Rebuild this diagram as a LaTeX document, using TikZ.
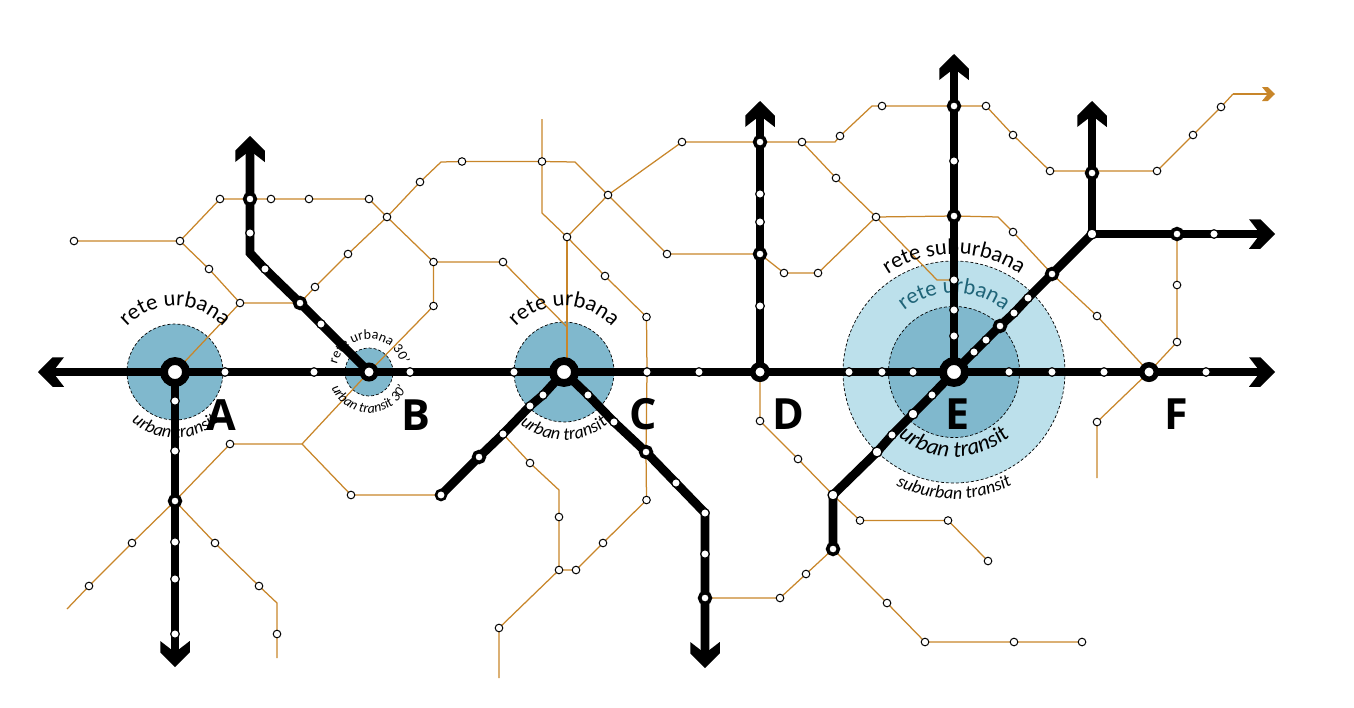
\documentclass[tikz,border=0pt]{standalone}
\usepackage{fontspec}
\setmainfont{Carlito}
\newfontfamily\letterfont{Open Sans}
\usetikzlibrary{arrows.meta,decorations.text}
\definecolor{orangeline}{HTML}{C8862A}
\definecolor{inner}{HTML}{80B8CD}
\definecolor{outerz}{HTML}{BCE0EB}
\definecolor{teal}{HTML}{1F6478}
\pgfdeclarelayer{zones}\pgfdeclarelayer{thin}\pgfdeclarelayer{labels}\pgfdeclarelayer{thick}
\pgfsetlayers{zones,thin,labels,thick,main}
\pgfdeclarearrow{
  name=Chev,
  defaults={length=26pt,width=29.5pt},
  setup code={
    \pgfarrowssettipend{0pt}
    \pgfarrowssetlineend{-0.45\pgfarrowlength}
    \pgfarrowssetvisualtipend{0pt}
    \pgfarrowssetbackend{-\pgfarrowlength}
    \pgfarrowssetvisualbackend{-0.5\pgfarrowlength}
    \pgfarrowssavethe\pgfarrowlength
    \pgfarrowssavethe\pgfarrowwidth
  },
  parameters={\the\pgfarrowlength,\the\pgfarrowwidth},
  drawing code={
    \pgfpathmoveto{\pgfpoint{0pt}{0pt}}
    \pgfpathlineto{\pgfpoint{-0.56\pgfarrowlength}{0.5\pgfarrowwidth}}
    \pgfpathlineto{\pgfpoint{-\pgfarrowlength}{0.5\pgfarrowwidth}}
    \pgfpathlineto{\pgfpoint{-0.56\pgfarrowlength}{0pt}}
    \pgfpathlineto{\pgfpoint{-\pgfarrowlength}{-0.5\pgfarrowwidth}}
    \pgfpathlineto{\pgfpoint{-0.56\pgfarrowlength}{-0.5\pgfarrowwidth}}
    \pgfpathclose
    \pgfusepathqfill
  }
}
\newcommand\szA{\fontsize{22.5}{25}\selectfont}
\newcommand\szAi{\fontsize{18}{20}\selectfont\itshape}
\newcommand\szB{\fontsize{14}{16}\selectfont}
\newcommand\szBi{\fontsize{14}{16}\selectfont\itshape}
\newcommand\szE{\fontsize{22.5}{25}\selectfont}
\newcommand\szEt{\fontsize{22.5}{25}\selectfont\color{teal}}
\newcommand\szEi{\fontsize{23}{26}\selectfont\itshape}
\newcommand\szEs{\fontsize{18}{20}\selectfont\itshape}
\tikzset{
  base/.style={circle,inner sep=0pt,outer sep=0pt,fill=white,draw=black},
  st/.style={base,minimum size=7.6pt,line width=1pt},
  ws/.style={base,minimum size=8.6pt,line width=1.2pt},
  wb/.style={base,minimum size=10pt,line width=1.3pt},
  ix/.style={base,minimum size=10.8pt,line width=3.6pt},
  mh/.style={base,minimum size=14.5pt,line width=5.5pt},
  hb/.style={base,minimum size=14pt,line width=5pt},
  hub/.style={base,minimum size=22pt,line width=7.8pt},
  zone/.style={circle,inner sep=0pt,outer sep=0pt,draw=black,dashed,line width=0.7pt,dash pattern=on 3pt off 2pt},
  letter/.style={inner sep=0pt,font=\letterfont\fontsize{43}{46}\selectfont\bfseries},
  olin/.style={draw=orangeline,line width=1.25pt,line join=round},
  blin/.style={draw=black,line width=8.8pt,line join=miter},
  lab/.style={decorate,decoration={text along path,text align=center,text={#1}}},
}
\begin{document}
\begin{tikzpicture}[x=1pt,y=-1pt]
\useasboundingbox (0,0) rectangle (1354,707);
% free ends and bends
\coordinate (eL) at (38,372);
\coordinate (eR) at (1275,372);
\coordinate (eAd) at (175,667);
\coordinate (eTL) at (250,136);
\coordinate (eCd) at (705,668);
\coordinate (eDu) at (760,101);
\coordinate (eEu) at (954,54);
\coordinate (eGu) at (1092,101);
\coordinate (eGr) at (1275,234);
\coordinate (eOr) at (1275,94);
\coordinate (c250) at (250,253);
\coordinate (c441) at (441,162);
\coordinate (c575) at (575,162);
\coordinate (c542t) at (542,119);
\coordinate (c542b) at (542,213);
\coordinate (c567) at (567,327);
\coordinate (c567b) at (567,362);
\coordinate (c835) at (835,142);
\coordinate (c872) at (872,106);
\coordinate (c937) at (937,280);
\coordinate (c998) at (998,217);
\coordinate (c1233) at (1233,94);
\coordinate (c302) at (302,444);
\coordinate (c277) at (277,603);
\coordinate (e277) at (277,658);
\coordinate (e67) at (67,609);
\coordinate (c559) at (559,490);
\coordinate (e499) at (499,678);
\coordinate (e1097) at (1097,478);
% hubs
\node[hub] (A) at (175,372) {};
\node[hb] (B) at (369,372) {};
\node[hub] (C) at (564,372) {};
\node[mh] (D) at (760,372) {};
\node[hub] (E) at (954,372) {};
\node[mh] (F) at (1149,372) {};
% stops on the thick horizontal
\node[ws] (m225) at (225,372) {};
\node[ws] (m314) at (314,372) {};
\node[ws] (m410) at (410,372) {};
\node[ws] (m514) at (514,372) {};
\node[ws] (m647) at (647,372) {};
\node[ws] (m699) at (699,372) {};
\node[ws] (m849) at (849,372) {};
\node[ws] (m882) at (882,372) {};
\node[ws] (m913) at (913,372) {};
\node[ws] (m1009) at (1009,372) {};
\node[ws] (m1052) at (1052,372) {};
\node[ws] (m1104) at (1104,372) {};
\node[ws] (m1206) at (1206,372) {};
% thick A down
\node[ws] (a401) at (175,401) {};
\node[ws] (a451) at (175,451) {};
\node[ix] (x175) at (175,501) {};
\node[ws] (a542) at (175,542) {};
\node[ws] (a579) at (175,579) {};
\node[ws] (a634) at (175,634) {};
% thick B up
\node[ws] (b321) at (321,324) {};
\node[ix] (x300) at (300,303) {};
\node[ws] (b265) at (265,269) {};
\node[ws] (b233) at (250,233) {};
\node[ix] (x250) at (250,199) {};
% thick C lower left
\node[ws] (l543) at (543,395) {};
\node[ws] (l530) at (530,406) {};
\node[ws] (l503) at (503,434) {};
\node[ix] (l479) at (479,457) {};
\node[base,minimum size=10pt,line width=2.6pt] (t441) at (441,495) {};
% thick C lower right
\node[ws] (r588) at (588,395) {};
\node[ws] (r614) at (614,422) {};
\node[ix] (x646) at (646,452) {};
\node[ws] (r676) at (676,483) {};
\node[ws] (r704) at (705,513) {};
\node[ws] (r554) at (705,554) {};
\node[ix] (x705) at (705,598) {};
% thick D up
\node[ws] (d306) at (760,306) {};
\node[ix] (x760b) at (760,254) {};
\node[ws] (d222) at (760,222) {};
\node[ws] (d194) at (760,194) {};
\node[ix] (x760t) at (760,142) {};
% thick E up
\node[ws] (e336) at (954,336) {};
\node[ws] (e310) at (954,310) {};
\node[ws] (e280) at (954,280) {};
\node[ix] (x954m) at (954,216) {};
\node[ws] (e161) at (954,161) {};
\node[ix] (x954t) at (954,106) {};
% thick E lower left
\node[ws] (g932) at (932,395) {};
\node[wb] (g913) at (913,414) {};
\node[ws] (g892) at (892,435) {};
\node[wb] (g877) at (877,452) {};
\node[wb] (w833) at (833,495) {};
\node[ix] (x833) at (833,549) {};
% thick E upper right
\node[ws] (h974) at (974,352) {};
\node[ws] (h986) at (986,340) {};
\node[ix] (h1000) at (1000,326) {};
\node[ws] (h1014) at (1014,313) {};
\node[ws] (h1028) at (1028,298) {};
\node[ix] (x1052) at (1052,274) {};
\node[wb] (w1092) at (1092,234) {};
\node[ix] (x1092) at (1092,173) {};
\node[ix] (x1177) at (1177,234) {};
\node[ws] (w1214) at (1214,234) {};
% small stops
\node[st] (o74) at (74,241) {};
\node[st] (o180) at (180,241) {};
\node[st] (o220) at (220,199) {};
\node[st] (o271) at (271,199) {};
\node[st] (o309) at (309,199) {};
\node[st] (o369) at (369,199) {};
\node[st] (o387) at (387,217) {};
\node[st] (o433) at (433.5,262) {};
\node[st] (o434) at (433.5,306) {};
\node[st] (o209) at (209,269) {};
\node[st] (o240) at (240,303) {};
\node[st] (o315) at (315,287) {};
\node[st] (o348) at (348,254) {};
\node[st] (o420) at (420,182) {};
\node[st] (o462) at (462,161.5) {};
\node[st] (o542) at (542,161.5) {};
\node[st] (o608) at (608,195) {};
\node[st] (o667) at (667,254) {};
\node[st] (o784) at (784,273) {};
\node[st] (o818) at (818,273) {};
\node[st] (o876) at (876,217) {};
\node[st] (o503) at (503,262) {};
\node[st] (o567) at (567,237) {};
\node[st] (o605) at (605,276) {};
\node[st] (o646) at (646.5,317) {};
\node[st] (o646b) at (646.5,500) {};
\node[st] (o603) at (603,543) {};
\node[st] (o576) at (576,570) {};
\node[st] (o559c) at (559,570) {};
\node[st] (o559) at (559,517) {};
\node[st] (o530) at (530,463) {};
\node[st] (o499) at (499,628) {};
\node[st] (o682) at (682,142) {};
\node[st] (o802) at (802,142) {};
\node[st] (o840) at (840,136) {};
\node[st] (o882) at (882,106) {};
\node[st] (o986) at (986,106) {};
\node[st] (o1013) at (1013,135) {};
\node[st] (o1050) at (1050,171) {};
\node[st] (o1157) at (1157,171) {};
\node[st] (o1193) at (1193,135) {};
\node[st] (o1221) at (1221,107) {};
\node[st] (o836) at (836,178) {};
\node[st] (o1013b) at (1013,232) {};
\node[st] (o1097) at (1097,316) {};
\node[st] (o1097b) at (1097,422) {};
\node[st] (o1176) at (1177,342) {};
\node[st] (o1176b) at (1177,285) {};
\node[st] (o230) at (230,444) {};
\node[st] (o351) at (351,495) {};
\node[st] (o89) at (89,586) {};
\node[st] (o132) at (132,543) {};
\node[st] (o215) at (215,543) {};
\node[st] (o259) at (259,586) {};
\node[st] (o277) at (277,634) {};
\node[st] (o780) at (780,598) {};
\node[st] (o806) at (806,574) {};
\node[st] (o887) at (887,603) {};
\node[st] (o925) at (925,642) {};
\node[st] (o1014) at (1014,642) {};
\node[st] (o1082) at (1082,642) {};
\node[st] (o760) at (760,421) {};
\node[st] (o798) at (798,459) {};
\node[st] (o860) at (860,520.5) {};
\node[st] (o948) at (948,520.5) {};
\node[st] (o988) at (988,561) {};
% letters
\node[letter] (lA) at (221,415) {A};
\node[letter] (lB) at (416,415) {B};
\node[letter] (lC) at (643,414) {C};
\node[letter] (lD) at (788,414) {D};
\node[letter] (lE) at (958,414) {E};
\node[letter] (lF) at (1176,414) {F};
% zones
\begin{pgfonlayer}{zones}
\node[zone,fill=outerz,minimum size=222pt] (zEo) at (E.center) {};
\node[zone,fill=inner,minimum size=131pt] (zEi) at (E.center) {};
\node[zone,fill=inner,minimum size=96pt] (zA) at (A.center) {};
\node[zone,fill=inner,minimum size=48pt] (zB) at (B.center) {};
\node[zone,fill=inner,minimum size=100pt] (zC) at (C.center) {};
\end{pgfonlayer}
% thin lines
\begin{pgfonlayer}{thin}
\path[olin] (o74.center) -- (o180.center) -- (o220.center) -- (x250.center) -- (o271.center) -- (o309.center) -- (o369.center) -- (o387.center) -- (o433.center) -- (o434.center) -- (B.center) -- (c302);
\path[olin] (o180.center) -- (o209.center) -- (o240.center) -- (A.center);
\path[olin] (o240.center) -- (x300.center) -- (o315.center) -- (o348.center) -- (o387.center) -- (o420.center) -- (c441) -- (o462.center) -- (o542.center) -- (c575) -- (o608.center) -- (o667.center) -- (x760b.center) -- (o784.center) -- (o818.center) -- (o876.center) -- (c937) -- (e280.center);
\path[olin] (o433.center) -- (o503.center) -- (c567);
\path[olin] (c542t) -- (o542.center) -- (c542b) -- (o567.center) -- (o605.center) -- (o646.center) -- (m647.center) -- (x646.center) -- (o646b.center) -- (o603.center) -- (o576.center) -- (o559c.center) -- (o499.center) -- (e499);
\path[olin] (o567.center) -- (c567b);
\path[olin] (o567.center) -- (o608.center) -- (o682.center) -- (x760t.center) -- (o802.center) -- (c835) -- (o840.center) -- (c872) -- (o882.center) -- (x954t.center) -- (o986.center) -- (o1013.center) -- (o1050.center) -- (o1157.center) -- (o1193.center) -- (o1221.center) -- (c1233);
\path[olin,-{Chev[length=13pt,width=14pt]},orangeline] (c1233) -- (eOr);
\path[olin] (o802.center) -- (o836.center) -- (o876.center) -- (x954m.center) -- (c998) -- (o1013b.center) -- (x1052.center) -- (o1097.center) -- (F.center) -- (o1097b.center) -- (e1097);
\path[olin] (F.center) -- (o1176.center) -- (o1176b.center) -- (x1177.center);
\path[olin] (o230.center) -- (c302) -- (o351.center) -- (t441.center);
\path[olin] (e67) -- (o89.center) -- (o132.center) -- (x175.center) -- (o230.center);
\path[olin] (x175.center) -- (o215.center) -- (o259.center) -- (c277) -- (o277.center) -- (e277);
\path[olin] (l503.center) -- (o530.center) -- (c559) -- (o559.center) -- (o559c.center);
\path[olin] (x705.center) -- (o780.center) -- (o806.center) -- (x833.center) -- (o887.center) -- (o925.center) -- (o1014.center) -- (o1082.center);
\path[olin] (D.center) -- (o760.center) -- (o798.center) -- (w833.center) -- (o860.center) -- (o948.center) -- (o988.center);
\end{pgfonlayer}
% curved labels
\begin{pgfonlayer}{labels}
\path[lab={|\szA|rete urbana}] ([shift={(140:66pt)}]A.center) arc[start angle=140,end angle=40,radius=66pt];
\path[lab={|\szAi|urban transit}] ([shift={(205:66pt)}]A.center) arc[start angle=205,end angle=335,radius=66pt];
\path[lab={|\szB|rete urbana 30'}] ([shift={(170:33pt)}]B.center) arc[start angle=170,end angle=10,radius=33pt];
\path[lab={|\szBi|urban transit 30'}] ([shift={(195:41pt)}]B.center) arc[start angle=195,end angle=345,radius=41pt];
\path[lab={|\szA|rete urbana}] ([shift={(140:66pt)}]C.center) arc[start angle=140,end angle=40,radius=66pt];
\path[lab={|\szAi|urban transit}] ([shift={(205:68pt)}]C.center) arc[start angle=205,end angle=335,radius=68pt];
\path[lab={|\szE|rete suburbana}] ([shift={(140:118pt)}]E.center) arc[start angle=140,end angle=40,radius=118pt];
\path[lab={|\szEt|rete urbana}] ([shift={(140:79pt)}]E.center) arc[start angle=140,end angle=40,radius=79pt];
\path[lab={|\szEi|urban transit}] ([shift={(205:85pt)}]E.center) arc[start angle=205,end angle=335,radius=85pt];
\path[lab={|\szEs|suburban transit}] ([shift={(230:127pt)}]E.center) arc[start angle=230,end angle=310,radius=127pt];
\end{pgfonlayer}
% thick lines
\begin{pgfonlayer}{thick}
\path[blin,{Chev}-{Chev},black] (eL) -- (A.center) -- (m225.center) -- (m314.center) -- (B.center) -- (m410.center) -- (m514.center) -- (C.center) -- (m647.center) -- (m699.center) -- (D.center) -- (m849.center) -- (m882.center) -- (m913.center) -- (E.center) -- (m1009.center) -- (m1052.center) -- (m1104.center) -- (F.center) -- (m1206.center) -- (eR);
\path[blin,-{Chev},black] (A.center) -- (a401.center) -- (a451.center) -- (x175.center) -- (a542.center) -- (a579.center) -- (a634.center) -- (eAd);
\path[blin,-{Chev},black] (B.center) -- (b321.center) -- (x300.center) -- (b265.center) -- (c250) -- (b233.center) -- (x250.center) -- (eTL);
\path[blin] (C.center) -- (l543.center) -- (l530.center) -- (l503.center) -- (l479.center) -- (t441.center);
\path[blin,-{Chev},black] (C.center) -- (r588.center) -- (r614.center) -- (x646.center) -- (r676.center) -- (r704.center) -- (r554.center) -- (x705.center) -- (eCd);
\path[blin,-{Chev},black] (D.center) -- (d306.center) -- (x760b.center) -- (d222.center) -- (d194.center) -- (x760t.center) -- (eDu);
\path[blin,-{Chev},black] (E.center) -- (e336.center) -- (e310.center) -- (e280.center) -- (x954m.center) -- (e161.center) -- (x954t.center) -- (eEu);
\path[blin] (E.center) -- (g932.center) -- (g913.center) -- (g892.center) -- (g877.center) -- (w833.center) -- (x833.center);
\path[blin] (E.center) -- (h974.center) -- (h986.center) -- (h1000.center) -- (h1014.center) -- (h1028.center) -- (x1052.center) -- (w1092.center);
\path[blin,-{Chev},black] (w1092.center) -- (x1092.center) -- (eGu);
\path[blin,-{Chev},black] (w1092.center) -- (x1177.center) -- (w1214.center) -- (eGr);
\end{pgfonlayer}
\end{tikzpicture}
\end{document}
